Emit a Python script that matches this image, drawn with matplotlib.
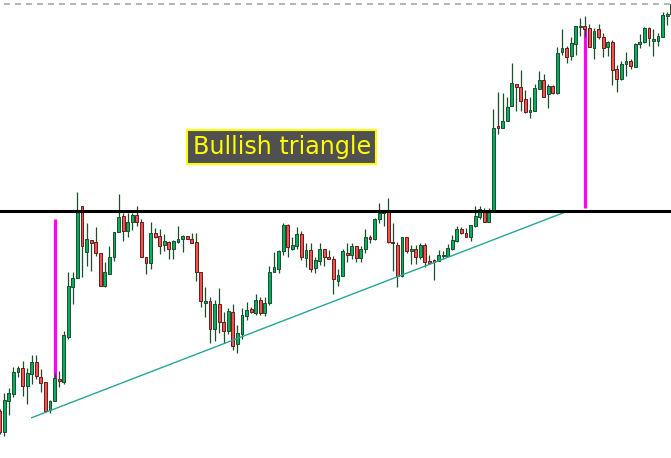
"""
Bullish triangle pattern on a candlestick chart:
flat resistance, rising support line, breakout and measured move.
"""

import numpy as np
import matplotlib
matplotlib.use('Agg')
import matplotlib.pyplot as plt

# ---------- candle data (price points) ----------
opens = np.array([
    47, 26, 57, 64, 86, 90, 72, 84, 96, 81,
    76, 48, 57, 79, 76, 121, 171, 180, 252, 206,
    218, 216, 205, 172, 184, 201, 226, 242, 227, 236,
    243, 236, 201, 195, 225, 222, 213, 216, 209, 216,
    219, 222, 219, 216, 186, 155, 157, 129, 154, 136,
    127, 146, 114, 124, 142, 149, 145, 158, 145, 155,
    186, 189, 207, 233, 209, 212, 224, 200, 208, 190,
    197, 209, 201, 199, 177, 182, 205, 203, 212, 200,
    209, 221, 219, 239, 245, 247, 216, 213, 182, 221,
    207, 209, 201, 213, 197, 198, 197, 202, 202, 209,
    217, 229, 225, 221, 232, 241, 248, 236, 246, 332,
    330, 337, 352, 374, 371, 359, 346, 347, 369, 378,
    364, 372, 365, 406, 410, 402, 414, 431, 432, 430,
    410, 429, 421, 411, 416, 389, 379, 394, 397, 391,
    414, 416, 430, 417, 417, 421, 442, 444,
])
highs = np.array([
    49, 65, 70, 91, 92, 97, 90, 103, 103, 89,
    76, 58, 85, 87, 127, 186, 186, 266, 252, 235,
    218, 231, 205, 196, 212, 226, 264, 245, 245, 245,
    252, 239, 201, 236, 230, 229, 224, 217, 218, 232,
    223, 222, 225, 225, 186, 171, 161, 158, 170, 146,
    150, 154, 133, 150, 156, 151, 164, 161, 161, 192,
    206, 208, 235, 234, 221, 231, 227, 215, 215, 201,
    215, 209, 208, 202, 189, 209, 215, 215, 212, 212,
    229, 223, 240, 255, 248, 260, 235, 216, 221, 221,
    213, 213, 215, 215, 203, 199, 208, 207, 214, 223,
    232, 231, 230, 233, 252, 252, 250, 250, 349, 366,
    365, 361, 395, 374, 388, 368, 361, 374, 387, 384,
    374, 373, 411, 429, 412, 421, 432, 440, 442, 434,
    430, 434, 425, 417, 418, 393, 397, 406, 399, 415,
    424, 431, 431, 429, 425, 446, 446, 460,
])
lows = np.array([
    24, 22, 43, 61, 81, 62, 54, 74, 79, 66,
    47, 45, 57, 71, 74, 119, 154, 180, 181, 192,
    187, 202, 172, 171, 184, 197, 226, 217, 221, 228,
    232, 201, 184, 189, 220, 204, 207, 199, 199, 215,
    206, 219, 215, 177, 151, 141, 115, 117, 125, 115,
    124, 108, 105, 119, 138, 145, 143, 143, 142, 153,
    186, 185, 203, 201, 208, 209, 198, 191, 186, 185,
    193, 192, 199, 164, 172, 182, 196, 199, 196, 196,
    205, 215, 218, 235, 232, 215, 187, 171, 181, 205,
    194, 194, 199, 191, 194, 178, 197, 199, 202, 208,
    216, 224, 221, 217, 231, 239, 236, 236, 246, 324,
    330, 337, 352, 347, 347, 345, 340, 347, 369, 361,
    350, 364, 364, 403, 395, 398, 403, 422, 421, 411,
    399, 419, 401, 402, 373, 366, 378, 382, 389, 391,
    410, 415, 412, 402, 412, 421, 433, 426,
])
closes = np.array([
    26, 58, 65, 86, 90, 72, 85, 96, 82, 75,
    47, 57, 80, 77, 123, 172, 180, 246, 212, 219,
    215, 205, 172, 186, 201, 226, 241, 227, 236, 243,
    236, 201, 195, 225, 221, 212, 217, 209, 217, 219,
    222, 219, 215, 186, 157, 157, 129, 154, 136, 127,
    147, 112, 125, 143, 148, 146, 158, 145, 155, 186,
    191, 207, 233, 211, 213, 224, 201, 208, 189, 198,
    209, 201, 199, 179, 183, 207, 203, 212, 200, 209,
    221, 219, 239, 245, 247, 216, 215, 182, 221, 207,
    209, 201, 213, 196, 195, 196, 203, 203, 210, 218,
    229, 225, 221, 233, 242, 249, 236, 247, 330, 330,
    337, 351, 375, 371, 357, 346, 348, 370, 378, 361,
    372, 365, 405, 410, 401, 415, 432, 432, 429, 411,
    427, 421, 410, 416, 388, 379, 394, 397, 392, 414,
    416, 430, 420, 419, 422, 443, 444, 454,
])

# ---------- pattern levels ----------
resistance = 246.7          # flat top of the triangle
upper_dotted = 454.5        # grey dashed level at the top
support_x = [7.0, 124.3]    # rising support line (bar index)
support_y = [40.3, 247.0]
height_x = [12.2, 127.95]   # pattern height and measured move
height_lo = [57, 250]
height_hi = [239, 430]
label_text = 'Bullish triangle'
label_x, label_y = 61.7, 311

# ---------- plot ----------
x = np.arange(len(opens))
up = closes >= opens
body_lo = np.minimum(opens, closes)
body_h = np.maximum(np.abs(closes - opens), 0.8)

fig = plt.figure(figsize=(6.71, 4.58), dpi=100)
ax = fig.add_axes([0, 0, 1, 1])
ax.set_xlim(0.066, 146.83)
ax.set_ylim(0, 458)
ax.axis('off')

# measured move bars (behind candles)
ax.vlines(height_x, height_lo, height_hi, color='#FF00FF', lw=2.3, zorder=1)

# wicks + bodies
ax.vlines(x, lows, highs, color='#1E4D2B', lw=0.9, zorder=2)
ax.bar(x[up], body_h[up], bottom=body_lo[up], width=0.62,
       color='#00B060', edgecolor='#1E4D2B', linewidth=0.7, zorder=3)
ax.bar(x[~up], body_h[~up], bottom=body_lo[~up], width=0.62,
       color='#F0524F', edgecolor='#6B1A1A', linewidth=0.7, zorder=3)

# trend lines
ax.plot(support_x, support_y, color='#26A69A', lw=1.0, zorder=4)
ax.axhline(resistance, color='black', lw=2.2, zorder=5)
ax.axhline(upper_dotted, color='#A0A0A0', lw=1.1,
           linestyle=(4.6, (3.9, 3.3)), zorder=1)

ax.text(label_x, label_y, label_text, fontsize=17.2, color='#FFFF00',
        ha='center', va='center', zorder=6,
        bbox=dict(boxstyle='square,pad=0.22', facecolor='#505050',
                  edgecolor='#FFFF00', linewidth=1.5))

fig.savefig('out.png', dpi=100)
plt.close(fig)
